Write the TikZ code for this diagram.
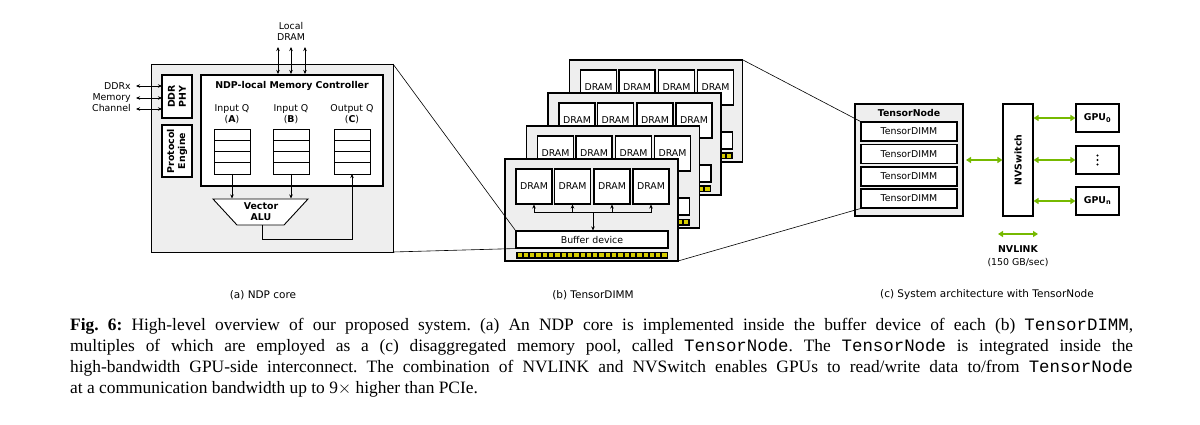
\documentclass[tikz,border=0pt]{standalone}
\usepackage{fontspec}
\setmainfont{Liberation Serif}
\setmonofont{Liberation Mono}
\newfontfamily\djvs{DejaVu Sans}
\usetikzlibrary{arrows.meta}
\definecolor{nvg}{RGB}{118,185,0}
\definecolor{pincol}{RGB}{215,205,0}
\definecolor{lg}{RGB}{238,238,238}
\begin{document}
\frenchspacing
\begin{tikzpicture}[x=1pt,y=-1pt,
  txt/.style={font=\djvs\fontsize{9.4}{11}\selectfont,inner sep=0pt,align=center},
  btxt/.style={font=\djvs\bfseries\fontsize{9.4}{11}\selectfont,inner sep=0pt,align=center},
  box/.style={draw,line width=1.1pt,fill=white},
  arr/.style={-{Stealth[length=4pt,width=3.5pt]},line width=0.9pt},
  darr/.style={{Stealth[length=4pt,width=3.5pt]}-{Stealth[length=4pt,width=3.5pt]},line width=0.9pt},
  garr/.style={{Triangle[length=5pt,width=6pt]}-{Triangle[length=5pt,width=6pt]},line width=2pt,nvg},
  zl/.style={line width=0.6pt}]
\useasboundingbox (0,0) rectangle (1200,425);
% ===== (a) NDP core
\draw[fill=lg,line width=0.9pt] (151,64) rectangle (393,252);
\node[box,minimum width=30pt,minimum height=43pt] (phy) at (177,96.5) {};
\node[btxt,rotate=90] at (phy) {DDR\\PHY};
\node[box,minimum width=30pt,minimum height=52pt] (pe) at (177,151) {};
\node[btxt,rotate=90] at (pe) {Protocol\\Engine};
\node[box,minimum width=182pt,minimum height=111pt] (mc) at (292,130.5) {};
\node[btxt] at (292,86) {NDP-local Memory Controller};
\foreach \x/\l/\n in {232/Input Q/A,291/Input Q/B,352/Output Q/C}{
  \node[txt] at (\x,114) {\l\\(\textbf{\n})};
  \draw[line width=0.9pt,fill=white] (\x-18,129) rectangle (\x+18,174);
  \foreach \yy in {140.25,151.5}{\draw[line width=0.9pt] (\x-18,\yy)--(\x+18,\yy);}
  \draw[line width=1.4pt] (\x-18,162.75)--(\x+18,162.75);
  \coordinate (q\n) at (\x,174);
}
\draw[line width=0.9pt,fill=white] (213,199) -- (308,199) -- (284,225) -- (237,225) -- cycle;
\node[btxt] (alu) at (261,212) {Vector\\ALU};
\draw[arr] (qA) -- (232,198.5);
\draw[arr] (qB) -- (291,198.5);
\draw[arr] (262,225) -- (262,239) -- (352,239) -- (qC);
\node[txt] (ld) at (291,31) {Local\\DRAM};
\foreach \x in {278,291,305}{\draw[darr] (\x,47) -- (\x,74);}
\node[txt,align=right,anchor=east] (ddrx) at (131,97.5) {DDRx\\Memory\\Channel};
\foreach \yy in {86,98,109}{\draw[darr] (136,\yy) -- (162,\yy);}
% ===== (b) TensorDIMM
\foreach \dx/\dy/\k in {64.5/-99/4,43/-66/3,21.5/-33/2,0/0/1}{
 \begin{scope}[shift={(\dx,\dy)}]
  \draw[fill=lg,line width=1.1pt] (505,159) rectangle (678,261);
  \foreach \x in {516,554.5,594,633}{\node[box,minimum width=36pt,minimum height=35pt,inner sep=0pt,txt] at (\x+18,186.5) {DRAM};}
  \node[box,minimum width=152pt,minimum height=17pt,inner sep=0pt] (buf\k) at (592,239.5) {};
  \fill[black] (516,251.5) rectangle (668,258.5);
  \foreach \i in {0,...,23}{\fill[pincol] (517.5+\i*6.3,252.8) rectangle (521.8+\i*6.3,257.2);}
 \end{scope}}
\node[txt] at (buf1) {Buffer device};
\draw[line width=0.9pt] (534,212) -- (652,212);
\foreach \x in {534,572.5,612,651}{\draw[arr] (\x,212) -- (\x,204.5);}
\draw[arr] (593,212) -- (593,230.5);
\draw[zl] (393,64) -- (buf1.north west);
\draw[zl] (393,252) -- (buf1.south west);
% ===== (c) System
\draw[fill=lg,line width=1.1pt] (855,104) rectangle (963,216);
\node[btxt] at (909,113) {TensorNode};
\foreach \yy/\k in {131.5/1,154/2,176.5/3,198.5/4}{\node[box,minimum width=96pt,minimum height=19pt,inner sep=0pt,txt] (td\k) at (909,\yy) {TensorDIMM};}
\draw[zl] (743,60) -- (td1.north west);
\draw[zl] (678,261) -- (td4.south west);
\node[box,minimum width=30pt,minimum height=112pt,inner sep=0pt] (nvs) at (1018,160) {};
\node[btxt,rotate=90] at (nvs) {NVSwitch};
\node[box,minimum width=43pt,minimum height=28pt,inner sep=0pt,btxt] (g0) at (1097.5,118) {GPU\textsubscript{0}};
\node[box,minimum width=43pt,minimum height=28pt,inner sep=0pt] (g1) at (1097.5,160) {};
\foreach \yy in {-4.5,0,4.5}{\fill ([yshift=\yy]g1.center) circle (1.1pt);}
\node[box,minimum width=43pt,minimum height=28pt,inner sep=0pt,btxt] (g2) at (1097.5,201) {GPU\textsubscript{n}};
\draw[garr] (966,160) -- (nvs.west|-0,160);
\draw[garr] (nvs.east|-g0) -- (g0.west);
\draw[garr] (nvs.east|-g1) -- (g1.west);
\draw[garr] (nvs.east|-g2) -- (g2.west);
\coordinate (l1) at (998,234); \coordinate (l2) at (1038,234);
\draw[garr] (l1) -- (l2);
\node[btxt] at (1018,249) {NVLINK};
\node[txt] at (1018,262.5) {(150 GB/sec)};
% subcaptions
\node[font=\djvs\fontsize{10.5}{12}\selectfont,inner sep=0pt] at (263,295) {(a) NDP core};
\node[font=\djvs\fontsize{10.5}{12}\selectfont,inner sep=0pt] at (593,295) {(b) TensorDIMM};
\node[font=\djvs\fontsize{10.5}{12}\selectfont,inner sep=0pt] at (987,295) {(c) System architecture with TensorNode};
% caption
\node[anchor=north west,inner sep=0pt,text width=1063pt,align=justify,font=\fontsize{17.4}{21}\selectfont] at (70,318) {\textbf{Fig. 6:} High-level overview of our proposed system. (a) An NDP core is implemented inside the buffer device of each (b) \texttt{TensorDIMM},\linebreak
multiples of which are employed as a (c) disaggregated memory pool, called \texttt{TensorNode}. The \texttt{TensorNode} is integrated inside the\linebreak
high-bandwidth GPU-side interconnect. The combination of NVLINK and NVSwitch enables GPUs to read/write data to/from \texttt{TensorNode}\linebreak
at a communication bandwidth up to 9$\times$ higher than PCIe.\par};
\end{tikzpicture}
\end{document}
